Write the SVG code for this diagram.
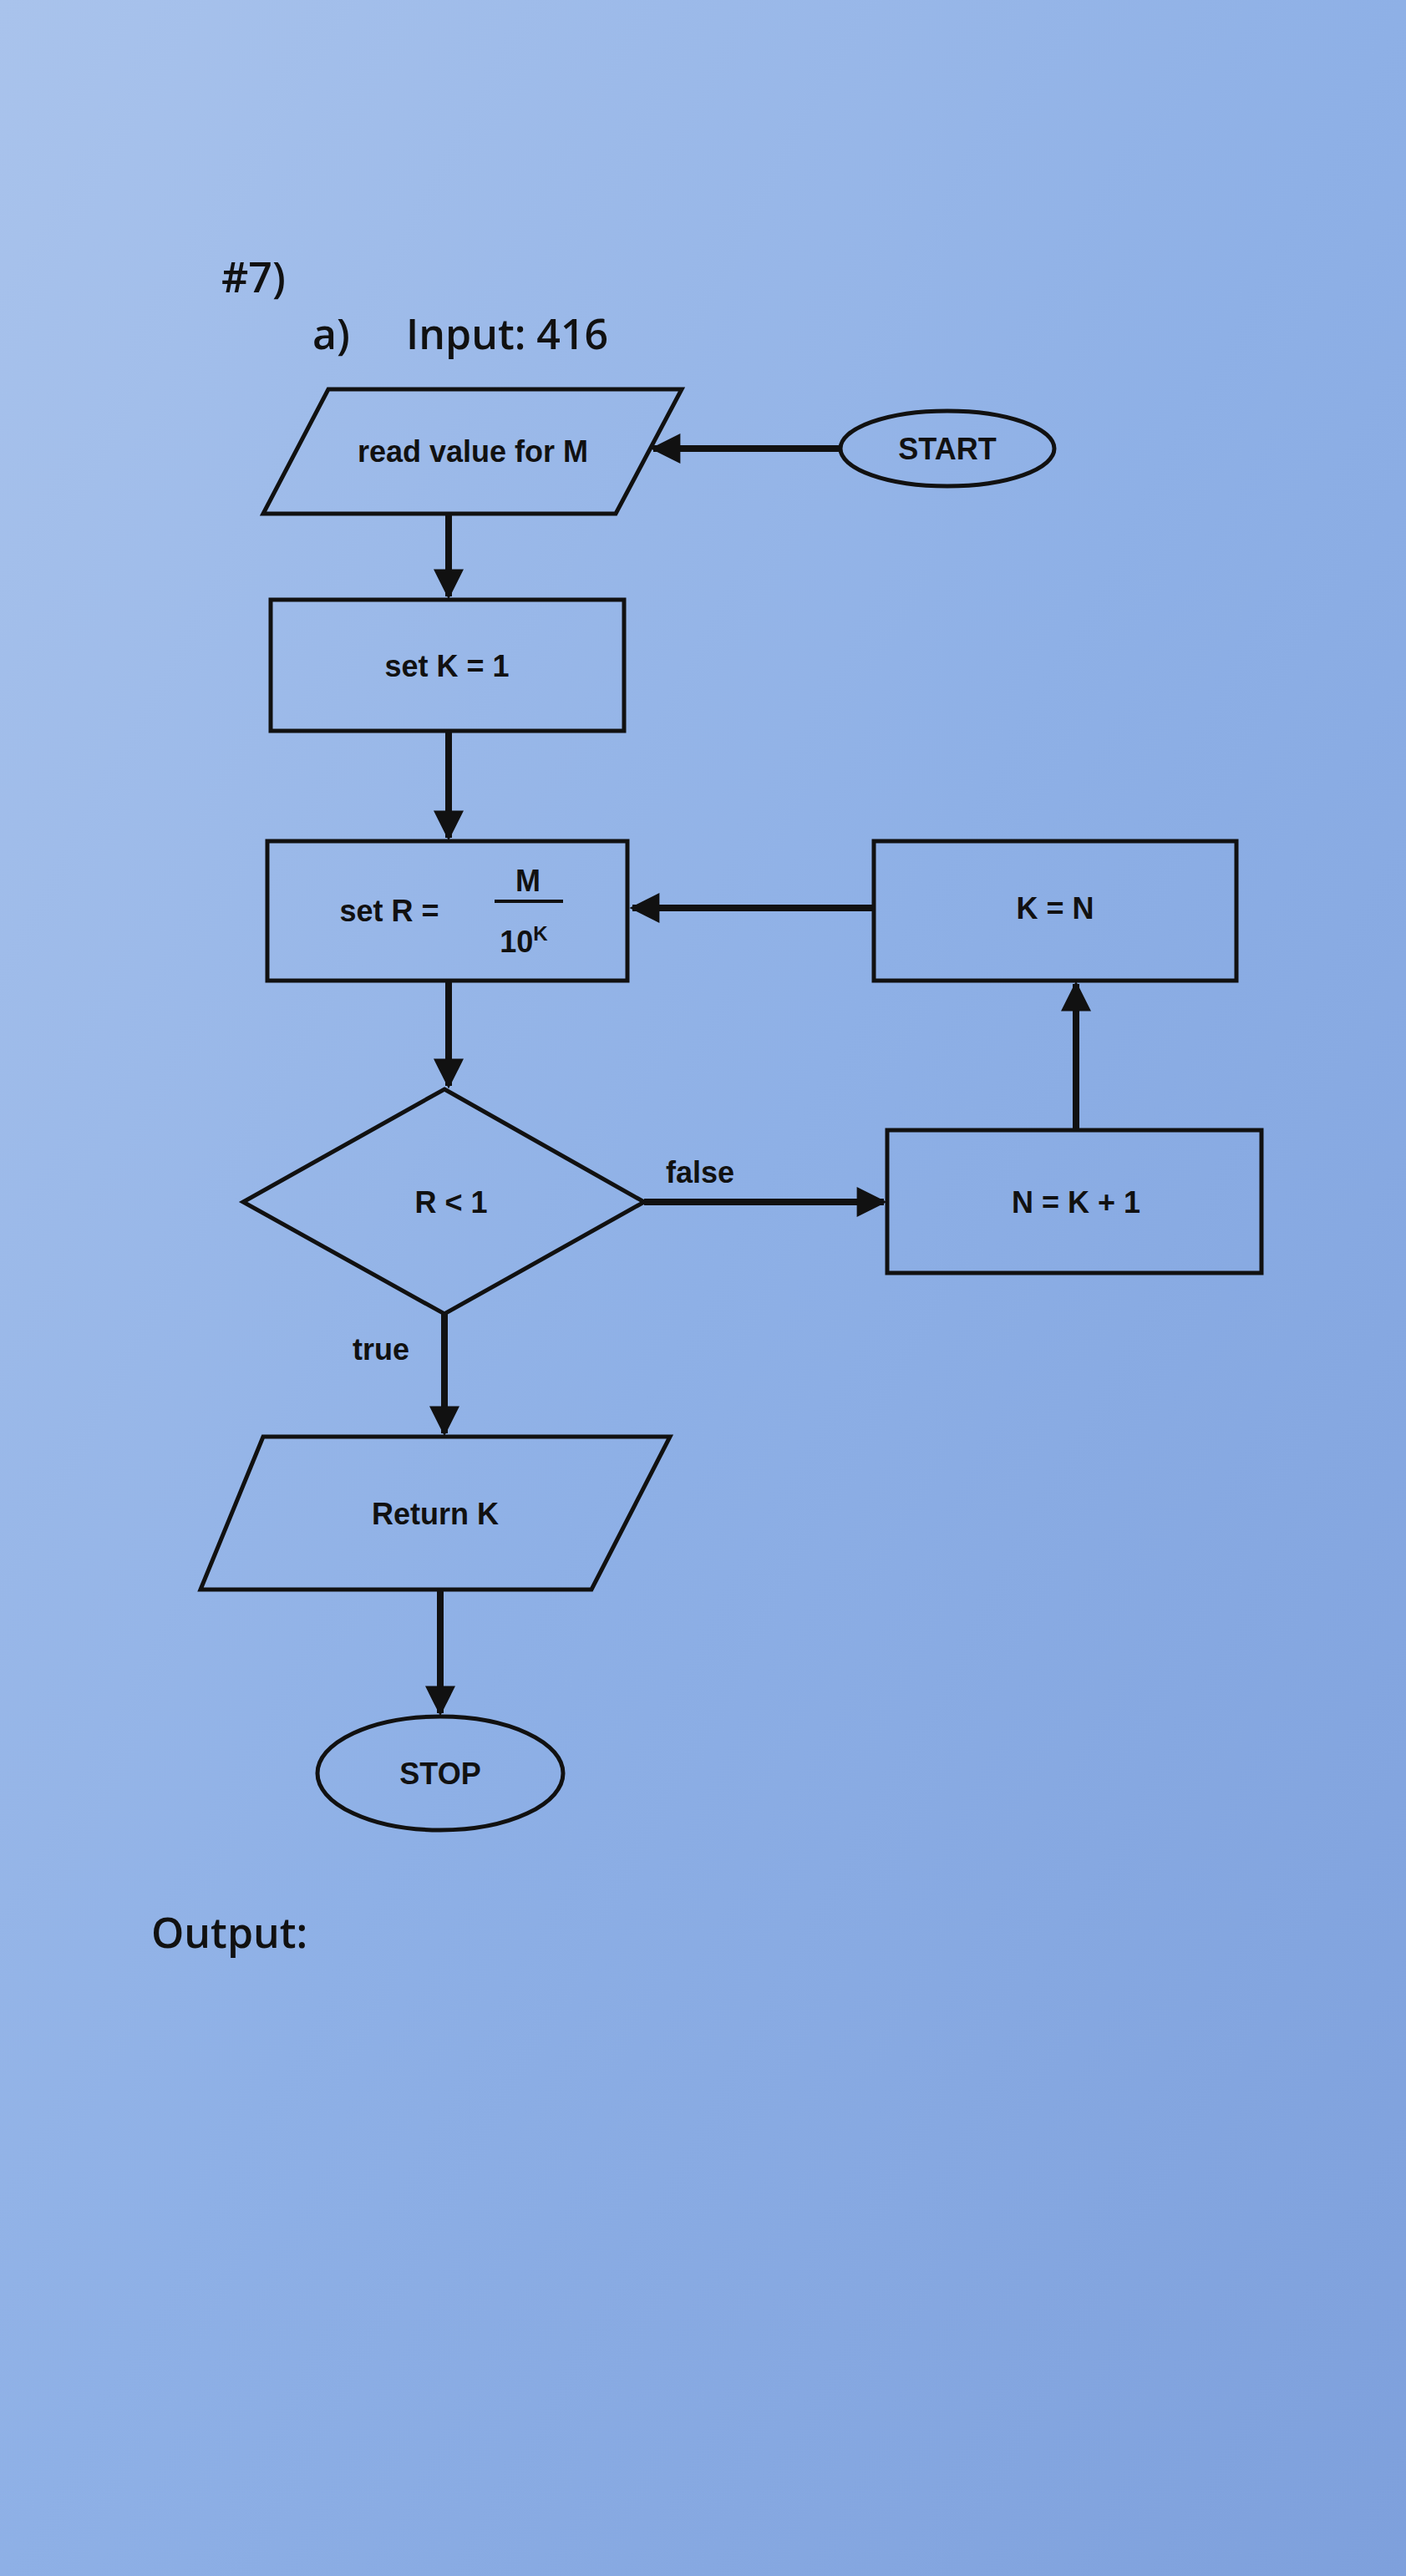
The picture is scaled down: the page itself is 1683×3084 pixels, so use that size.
<svg xmlns="http://www.w3.org/2000/svg" width="1683" height="3084" viewBox="0 0 1683 3084">
<defs>
<linearGradient id="bg" x1="0" y1="0" x2="1" y2="1">
<stop offset="0" stop-color="#a9c3ec"/><stop offset="0.5" stop-color="#8eb0e6"/><stop offset="1" stop-color="#7ea0dc"/>
</linearGradient>
<marker id="ah" viewBox="0 0 10 10" refX="9" refY="5" markerWidth="5" markerHeight="4.5" orient="auto" markerUnits="strokeWidth"><path d="M0,0 L10,5 L0,10 z" fill="#111"/></marker>
<style>
.s{fill:none;stroke:#111;stroke-width:5}
.c{stroke:#111;stroke-width:8;fill:none;marker-end:url(#ah)}
.t{font-family:"Liberation Sans",Arial,sans-serif;font-weight:bold;font-size:36px;fill:#111;text-anchor:middle}
.h{font-family:"Open Sans","Liberation Sans",sans-serif;font-weight:600;font-size:50px;fill:#111}
</style>
</defs>
<rect width="1683" height="3084" fill="url(#bg)"/>
<text class="h" x="265" y="350">#7)</text>
<text class="h" x="374" y="418">a)</text>
<text class="h" x="486" y="418">Input: 416</text>
<text class="h" x="181" y="2332">Output:</text>
<g id="read"><polygon class="s" points="393,466 816,466 737,615 315,615"/><text class="t" x="566" y="553">read value for M</text></g>
<g id="start"><ellipse class="s" cx="1134" cy="537" rx="128" ry="45"/><text class="t" x="1134" y="550">START</text></g>
<g id="setk"><rect class="s" x="324" y="718" width="423" height="157"/><text class="t" x="535" y="810">set K = 1</text></g>
<g id="setr"><rect class="s" x="320" y="1007" width="431" height="167"/><text class="t" x="466" y="1103">set R =</text><text class="t" x="632" y="1067">M</text><line x1="592" y1="1079" x2="674" y2="1079" stroke="#111" stroke-width="4"/><text class="t" x="627" y="1140">10<tspan font-size="24" dy="-14">K</tspan></text></g>
<g id="kn"><rect class="s" x="1046" y="1007" width="434" height="167"/><text class="t" x="1263" y="1100">K = N</text></g>
<g id="dec"><polygon class="s" points="532,1304 771,1439 532,1573 291,1439"/><text class="t" x="540" y="1452">R &lt; 1</text></g>
<g id="nk"><rect class="s" x="1062" y="1353" width="448" height="171"/><text class="t" x="1288" y="1452">N = K + 1</text></g>
<g id="ret"><polygon class="s" points="315,1720 802,1720 708,1903 240,1903"/><text class="t" x="521" y="1825">Return K</text></g>
<g id="stop"><ellipse class="s" cx="527" cy="2123" rx="147" ry="68"/><text class="t" x="527" y="2136">STOP</text></g>
<g id="connectors">
<line class="c" x1="1006" y1="537" x2="782" y2="537"/>
<line class="c" x1="537" y1="615" x2="537" y2="714"/>
<line class="c" x1="537" y1="875" x2="537" y2="1003"/>
<line class="c" x1="1046" y1="1087" x2="757" y2="1087"/>
<line class="c" x1="537" y1="1174" x2="537" y2="1300"/>
<line class="c" x1="771" y1="1439" x2="1058" y2="1439"/>
<line class="c" x1="1288" y1="1353" x2="1288" y2="1178"/>
<line class="c" x1="532" y1="1573" x2="532" y2="1716"/>
<line class="c" x1="527" y1="1903" x2="527" y2="2051"/>
<text class="t" x="838" y="1416">false</text>
<text class="t" x="456" y="1628">true</text>
</g>
</svg>
